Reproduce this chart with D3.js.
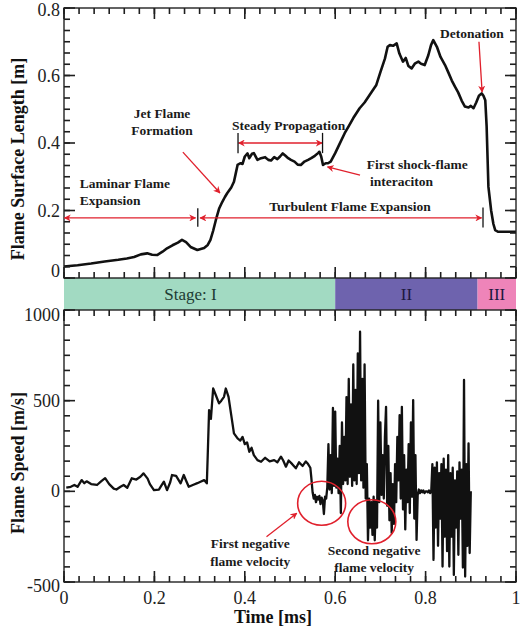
<!DOCTYPE html>
<html>
<head>
<meta charset="utf-8">
<script src="https://cdn.jsdelivr.net/npm/d3@7"></script>
<style>
  body { margin: 0; background: #fff; }
  svg { display: block; }
</style>
</head>
<body>
<div id="chart"></div>
<script>
// flame surface length [m] vs time [ms]
var lengthTime = [0, 0.03, 0.06, 0.09, 0.12, 0.139, 0.155, 0.17, 0.184, 0.195, 0.206, 0.218, 0.228, 0.24, 0.252,
    0.261, 0.27, 0.28, 0.295, 0.31, 0.318, 0.324, 0.33, 0.336, 0.343, 0.35, 0.356, 0.361, 0.37, 0.376, 0.38,
    0.384, 0.39, 0.395, 0.4, 0.406, 0.41, 0.416, 0.42, 0.428, 0.436, 0.445, 0.452, 0.458, 0.465, 0.472, 0.478,
    0.484, 0.49, 0.496, 0.502, 0.51, 0.517, 0.524, 0.532, 0.54, 0.547, 0.555, 0.562, 0.565, 0.569, 0.573, 0.579,
    0.584, 0.59, 0.6, 0.61, 0.621, 0.63, 0.64, 0.654, 0.665, 0.675, 0.685, 0.691, 0.7, 0.71, 0.716, 0.721, 0.728,
    0.736, 0.742, 0.75, 0.756, 0.762, 0.769, 0.776, 0.784, 0.79, 0.798, 0.806, 0.812, 0.817, 0.825, 0.833, 0.843,
    0.85, 0.858, 0.865, 0.872, 0.88, 0.887, 0.895, 0.9, 0.906, 0.912, 0.918, 0.924, 0.928, 0.932, 0.935, 0.939,
    0.945, 0.95, 0.954, 0.96, 1.0];
var lengthValue = [0.034, 0.038, 0.043, 0.049, 0.054, 0.058, 0.062, 0.07, 0.073, 0.069, 0.068, 0.078, 0.088, 0.097, 0.105,
    0.113, 0.106, 0.092, 0.083, 0.089, 0.098, 0.113, 0.14, 0.172, 0.205, 0.225, 0.24, 0.251, 0.268, 0.285, 0.31,
    0.335, 0.34, 0.338, 0.36, 0.369, 0.355, 0.368, 0.37, 0.35, 0.355, 0.358, 0.35, 0.348, 0.358, 0.352, 0.36,
    0.369, 0.362, 0.355, 0.35, 0.345, 0.336, 0.335, 0.345, 0.35, 0.355, 0.362, 0.37, 0.374, 0.36, 0.335, 0.34,
    0.34, 0.345, 0.37, 0.398, 0.429, 0.45, 0.474, 0.503, 0.52, 0.54, 0.56, 0.572, 0.61, 0.65, 0.685, 0.69, 0.688,
    0.695, 0.665, 0.641, 0.652, 0.628, 0.621, 0.635, 0.641, 0.635, 0.631, 0.66, 0.69, 0.705, 0.685, 0.655, 0.631,
    0.61, 0.585, 0.567, 0.55, 0.525, 0.508, 0.505, 0.51, 0.503, 0.52, 0.54, 0.547, 0.54, 0.527, 0.45, 0.27,
    0.2, 0.16, 0.142, 0.137, 0.137];

// flame speed [m/s], smooth part before the shock interaction
var speedTime = [0.005, 0.015, 0.023, 0.03, 0.039, 0.045, 0.05, 0.06, 0.073, 0.082, 0.091, 0.1, 0.11, 0.116, 0.125,
    0.132, 0.14, 0.15, 0.16, 0.169, 0.176, 0.185, 0.19, 0.199, 0.21, 0.215, 0.221, 0.228, 0.235, 0.239, 0.248,
    0.258, 0.265, 0.27, 0.276, 0.285, 0.295, 0.302, 0.31, 0.316, 0.318, 0.321, 0.325, 0.33, 0.336, 0.343, 0.348,
    0.354, 0.358, 0.364, 0.37, 0.376, 0.384, 0.39, 0.395, 0.4, 0.405, 0.41, 0.415, 0.42, 0.428, 0.436, 0.445,
    0.455, 0.465, 0.472, 0.48, 0.485, 0.491, 0.497, 0.505, 0.513, 0.52, 0.528, 0.535, 0.539, 0.545, 0.547];
var speedValue = [20, 25, 35, 25, 62, 45, 55, 40, 35, 55, 73, 40, 15, 10, 25,
    35, 20, 72, 65, 80, 99, 70, 40, 7, 10, 30, 53, 7, 50, 90, 85,
    44, 90, 60, 25, 35, 45, 53, 62, 44, 200, 448, 400, 567, 530, 485, 500,
    521, 567, 521, 420, 320, 292, 280, 300, 260, 270, 218, 240, 200, 172, 163, 185,
    165, 172, 160, 191, 170, 136, 170, 150, 127, 160, 140, 165, 154, 130, 80];

// flame speed [m/s], oscillating part sampled every 0.0025 ms from 0.55 ms
var burstStart = 0.55, burstStep = 0.0025;
var burstSpeed = [-5, -40, -20, -60, -30, -45, -25, -70, -35, -50,
    -125, -30, -40, 20, 260, 10, 200, -10, 460, 30,
    440, 20, 180, -10, 250, -120, 380, 40, 300, 60,
    520, 40, 620, 80, 480, 30, 700, 60, 560, 40,
    760, 100, 880, 60, 620, 20, 700, -40, 150, -270,
    -40, -200, -60, -240, -30, -270, -50, -200, 500, -60,
    380, -20, 200, -40, 300, 466, -80, 250, -160, 100,
    -230, 40, -180, 150, -60, 300, 60, 420, -40, 466,
    -100, 200, -210, 120, -60, 260, -120, 380, -30, 503,
    -150, 200, -268, -20, 10, -10, 5, -5, 5, -10,
    0, 0, -5, 5, -10, 0, 150, -378, 130, -200,
    160, -300, 100, -150, 150, -415, 180, -250, 120, -330,
    200, -415, 100, -250, 130, -461, 60, -200, 110, -350,
    160, -150, 120, -420, 614, -470, 150, -300, 264, -340,
    0];

// stage bar
var stageNames = ["Stage: I", "II", "III"];
var stageEdges = [0, 0.6, 0.915, 1];
var stageColors = ["#a2dac2", "#6e63ae", "#ee84b9"];

var xTicks = [0, 0.2, 0.4, 0.6, 0.8, 1];
var lengthTicks = [0, 0.2, 0.4, 0.6, 0.8];
var speedTicks = [-500, 0, 500, 1000];

var W = 520, H = 627;
var padL = 64, padR = 516;
var topY0 = 8, topY1 = 278;
var barY0 = 278, barY1 = 310;
var botY0 = 310, botY1 = 582;
var red = "#e0202c";
var serif = "'Liberation Serif', 'Times New Roman', serif";

var svg = d3.select("#chart").append("svg")
    .attr("width", W)
    .attr("height", H);

var defs = svg.append("defs");
defs.append("marker")
    .attr("id", "arrowRed")
    .attr("viewBox", "0 0 10 10")
    .attr("refX", 9)
    .attr("refY", 5)
    .attr("markerWidth", 7)
    .attr("markerHeight", 7)
    .attr("markerUnits", "userSpaceOnUse")
    .attr("orient", "auto-start-reverse")
    .append("path")
    .attr("d", "M0,0 L10,5 L0,10 L3,5 Z")
    .style("fill", red);

var xScale = d3.scaleLinear().domain([0, 1]).range([padL, padR]);
var yLen = d3.scaleLinear().domain([0, 0.8]).range([topY1, topY0]);
var ySpd = d3.scaleLinear().domain([-500, 1000]).range([botY1, botY0]);

var xMinor = [];
for (var k = 0; k <= 30; k++) xMinor.push(k / 30);
var lenMinor = [];
for (var k = 0; k <= 24; k++) lenMinor.push(k / 30);
var spdMinor = [];
for (var k = 0; k <= 18; k++) spdMinor.push(-500 + k * 500 / 6);

// stage bar
for (var i = 0; i < stageNames.length; i++) {
    svg.append("rect")
        .attr("x", xScale(stageEdges[i]))
        .attr("y", barY0)
        .attr("width", xScale(stageEdges[i + 1]) - xScale(stageEdges[i]))
        .attr("height", barY1 - barY0)
        .attr("fill", stageColors[i]);
    svg.append("text")
        .attr("x", i == 0 ? xScale(0.28) : (xScale(stageEdges[i]) + xScale(stageEdges[i + 1])) / 2)
        .attr("y", (barY0 + barY1) / 2 + 6)
        .attr("text-anchor", "middle")
        .attr("font-family", serif)
        .attr("font-size", "17px")
        .attr("fill", i == 0 ? "#1d3b33" : "#1c1840")
        .text(stageNames[i]);
}

// top panel
var lengthLine = d3.line()
    .x(function(d, i) { return xScale(lengthTime[i]); })
    .y(function(d) { return yLen(d); });

svg.append("path")
    .attr("d", lengthLine(lengthValue))
    .attr("fill", "none")
    .attr("stroke", "#111")
    .attr("stroke-width", 2.6)
    .attr("stroke-linejoin", "round");

// bottom panel
var speedPoints = speedTime.map(function(t, i) { return [t, speedValue[i]]; });
burstSpeed.forEach(function(v, i) { speedPoints.push([burstStart + i * burstStep, v]); });

var speedLine = d3.line()
    .x(function(d) { return xScale(d[0]); })
    .y(function(d) { return ySpd(d[1]); });

svg.append("path")
    .attr("d", speedLine(speedPoints))
    .attr("fill", "none")
    .attr("stroke", "#111")
    .attr("stroke-width", 2.3)
    .attr("stroke-linejoin", "round");

// frames and inward ticks, both panels
var panels = [
    {scale: yLen, y0: topY0, y1: topY1, major: lengthTicks, minor: lenMinor},
    {scale: ySpd, y0: botY0, y1: botY1, major: speedTicks, minor: spdMinor}
];
var tickSegs = [];
panels.forEach(function(p) {
    p.minor.forEach(function(v) { tickSegs.push({h: true, pos: p.scale(v), len: 6}); });
    p.major.forEach(function(v) { tickSegs.push({h: true, pos: p.scale(v), len: 11}); });
    xMinor.forEach(function(v) { tickSegs.push({h: false, pos: xScale(v), y0: p.y0, y1: p.y1, len: 6}); });
    xTicks.forEach(function(v) { tickSegs.push({h: false, pos: xScale(v), y0: p.y0, y1: p.y1, len: 11}); });
});

var tickGroup = svg.append("g").attr("class", "ticks");
tickSegs.forEach(function(s) {
    if (s.h) {
        tickGroup.append("line").attr("x1", padL).attr("x2", padL + s.len).attr("y1", s.pos).attr("y2", s.pos);
        tickGroup.append("line").attr("x1", padR).attr("x2", padR - s.len).attr("y1", s.pos).attr("y2", s.pos);
    } else {
        tickGroup.append("line").attr("x1", s.pos).attr("x2", s.pos).attr("y1", s.y0).attr("y2", s.y0 + s.len);
        tickGroup.append("line").attr("x1", s.pos).attr("x2", s.pos).attr("y1", s.y1).attr("y2", s.y1 - s.len);
    }
});
tickGroup.selectAll("line")
    .attr("stroke", "#1e1e1e")
    .attr("stroke-width", 1.6);

panels.forEach(function(p) {
    svg.append("rect")
        .attr("x", padL).attr("y", p.y0)
        .attr("width", padR - padL).attr("height", p.y1 - p.y0)
        .attr("fill", "none")
        .attr("stroke", "#222")
        .attr("stroke-width", 1.4);
});

// tick labels
svg.selectAll(".lenLabel")
    .data(lengthTicks)
    .enter().append("text")
    .attr("x", padL - 4)
    .attr("y", function(d) { return yLen(d) + (d == 0 ? -1 : (d == 0.8 ? 8 : 6)); })
    .attr("text-anchor", "end")
    .attr("font-family", serif)
    .attr("font-size", "18px")
    .attr("fill", "#222")
    .text(function(d) { return d == 0 ? "0" : d3.format(".1f")(d); });

svg.selectAll(".spdLabel")
    .data(speedTicks)
    .enter().append("text")
    .attr("x", padL - 4)
    .attr("y", function(d) { return ySpd(d) + (d == 1000 ? 11 : (d == -500 ? 10 : 6)); })
    .attr("text-anchor", "end")
    .attr("font-family", serif)
    .attr("font-size", "18px")
    .attr("fill", "#222")
    .text(function(d) { return d; });

svg.selectAll(".xLabel")
    .data(xTicks)
    .enter().append("text")
    .attr("x", function(d) { return xScale(d); })
    .attr("y", botY1 + 22)
    .attr("text-anchor", "middle")
    .attr("font-family", serif)
    .attr("font-size", "18px")
    .attr("fill", "#222")
    .text(function(d) { return d == 0 || d == 1 ? String(d) : d3.format(".1f")(d); });

// axis titles
svg.append("text")
    .attr("transform", "translate(24," + 159 + ") rotate(-90)")
    .attr("text-anchor", "middle")
    .attr("font-family", serif)
    .attr("font-weight", "bold")
    .attr("font-size", "18px")
    .attr("fill", "#111")
    .text("Flame Surface Length [m]");

svg.append("text")
    .attr("transform", "translate(24," + 463 + ") rotate(-90)")
    .attr("text-anchor", "middle")
    .attr("font-family", serif)
    .attr("font-weight", "bold")
    .attr("font-size", "18px")
    .attr("fill", "#111")
    .text("Flame Speed [m/s]");

svg.append("text")
    .attr("x", 273)
    .attr("y", 623)
    .attr("text-anchor", "middle")
    .attr("font-family", serif)
    .attr("font-weight", "bold")
    .attr("font-size", "18px")
    .attr("fill", "#111")
    .text("Time [ms]");

// annotations, top panel
var topNotes = [
    {t: 0.035, v: 0.267, text: "Laminar Flame", anchor: "start"},
    {t: 0.035, v: 0.216, text: "Expansion", anchor: "start"},
    {t: 0.633, v: 0.2, text: "Turbulent Flame Expansion", anchor: "middle"},
    {t: 0.217, v: 0.474, text: "Jet Flame", anchor: "middle"},
    {t: 0.217, v: 0.424, text: "Formation", anchor: "middle"},
    {t: 0.497, v: 0.439, text: "Steady Propagation", anchor: "middle"},
    {t: 0.670, v: 0.322, text: "First shock-flame", anchor: "start"},
    {t: 0.677, v: 0.272, text: "interaciton", anchor: "start"},
    {t: 0.832, v: 0.711, text: "Detonation", anchor: "start"}
];

svg.selectAll(".topNote")
    .data(topNotes)
    .enter().append("text")
    .attr("x", function(d) { return xScale(d.t); })
    .attr("y", function(d) { return yLen(d.v); })
    .attr("text-anchor", function(d) { return d.anchor; })
    .attr("font-family", serif)
    .attr("font-weight", "bold")
    .attr("font-size", "13.5px")
    .attr("fill", "#1a1a1a")
    .text(function(d) { return d.text; });

// red arrows: both = double headed
var topArrows = [
    {t1: 0.001, v1: 0.178, t2: 0.291, v2: 0.178, both: true},
    {t1: 0.301, v1: 0.178, t2: 0.924, v2: 0.178, both: true},
    {t1: 0.386, v1: 0.4, t2: 0.571, v2: 0.4, both: true},
    {t1: 0.263, v1: 0.373, t2: 0.345, v2: 0.252, both: false},
    {t1: 0.655, v1: 0.305, t2: 0.583, v2: 0.329, both: false},
    {t1: 0.918, v1: 0.70, t2: 0.925, v2: 0.551, both: false}
];

svg.selectAll(".topArrow")
    .data(topArrows)
    .enter().append("line")
    .attr("x1", function(d) { return xScale(d.t1); })
    .attr("y1", function(d) { return yLen(d.v1); })
    .attr("x2", function(d) { return xScale(d.t2); })
    .attr("y2", function(d) { return yLen(d.v2); })
    .attr("stroke", red)
    .attr("stroke-width", 1.3)
    .attr("marker-end", "url(#arrowRed)")
    .attr("marker-start", function(d) { return d.both ? "url(#arrowRed)" : null; });

// black separators on the arrows
var separators = [
    {t: 0.296, v1: 0.152, v2: 0.207},
    {t: 0.927, v1: 0.150, v2: 0.209},
    {t: 0.385, v1: 0.37, v2: 0.43},
    {t: 0.572, v1: 0.37, v2: 0.43}
];

svg.selectAll(".sep")
    .data(separators)
    .enter().append("line")
    .attr("x1", function(d) { return xScale(d.t); })
    .attr("x2", function(d) { return xScale(d.t); })
    .attr("y1", function(d) { return yLen(d.v1); })
    .attr("y2", function(d) { return yLen(d.v2); })
    .attr("stroke", "#111")
    .attr("stroke-width", 1.3);

// annotations, bottom panel
var circles = [
    {t: 0.570, v: -66},
    {t: 0.681, v: -168}
];

svg.selectAll(".circ")
    .data(circles)
    .enter().append("ellipse")
    .attr("cx", function(d) { return xScale(d.t); })
    .attr("cy", function(d) { return ySpd(d.v); })
    .attr("rx", 24)
    .attr("ry", 22)
    .attr("fill", "none")
    .attr("stroke", red)
    .attr("stroke-width", 1.6);

svg.append("line")
    .attr("x1", xScale(0.448)).attr("y1", ySpd(-250))
    .attr("x2", xScale(0.515)).attr("y2", ySpd(-121))
    .attr("stroke", red)
    .attr("stroke-width", 1.3)
    .attr("marker-end", "url(#arrowRed)");

var botNotes = [
    {t: 0.412, v: -315, text: "First negative"},
    {t: 0.412, v: -413, text: "flame velocity"},
    {t: 0.686, v: -352, text: "Second negative"},
    {t: 0.686, v: -447, text: "flame velocity"}
];

svg.selectAll(".botNote")
    .data(botNotes)
    .enter().append("text")
    .attr("x", function(d) { return xScale(d.t); })
    .attr("y", function(d) { return ySpd(d.v); })
    .attr("text-anchor", "middle")
    .attr("font-family", serif)
    .attr("font-weight", "bold")
    .attr("font-size", "13.5px")
    .attr("fill", "#1a1a1a")
    .text(function(d) { return d.text; });
</script>
</body>
</html>
